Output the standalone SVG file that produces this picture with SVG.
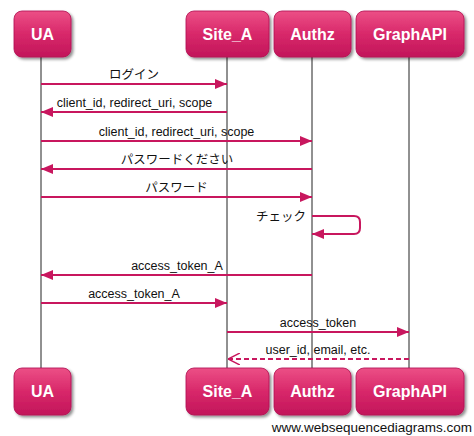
<svg xmlns="http://www.w3.org/2000/svg" width="474" height="436" viewBox="0 0 474 436">
<defs>
<linearGradient id="g" x1="0" y1="0" x2="0" y2="1">
<stop offset="0" stop-color="#ec4f86"/>
<stop offset="0.5" stop-color="#d8286a"/>
<stop offset="1" stop-color="#c2155a"/>
</linearGradient>
<filter id="sh" x="-20%" y="-20%" width="150%" height="150%">
<feGaussianBlur in="SourceAlpha" stdDeviation="1.5"/>
<feOffset dx="2" dy="2"/>
<feComponentTransfer><feFuncA type="linear" slope="0.45"/></feComponentTransfer>
<feMerge><feMergeNode/><feMergeNode in="SourceGraphic"/></feMerge>
</filter>
<marker id="a" markerWidth="12" markerHeight="10" refX="12" refY="5" orient="auto" markerUnits="userSpaceOnUse">
<path d="M0,0 L12,5 L0,10 Z" fill="#c8175e"/>
</marker>
<marker id="o" markerWidth="12" markerHeight="12" refX="12" refY="6" orient="auto" markerUnits="userSpaceOnUse">
<path d="M0,0 L12,6 L0,12" fill="none" stroke="#c8175e" stroke-width="1.5"/>
</marker>
</defs>
<style>
.box{fill:url(#g);stroke:#b01050;stroke-width:0.8;filter:url(#sh)}
.bt{font-family:"Liberation Sans",Arial,sans-serif;font-size:16px;font-weight:bold;fill:#fff;text-anchor:middle}
.life{stroke:#222;stroke-width:1}
.m{stroke:#c8175e;stroke-width:2;fill:none}
.d{stroke:#c8175e;stroke-width:2;fill:none;stroke-dasharray:5,3}
.t{font-family:"Liberation Sans","Noto Sans CJK JP",Arial,sans-serif;font-size:12.5px;fill:#111;text-anchor:middle}
.w{font-family:"Liberation Sans",Arial,sans-serif;font-size:13.5px;fill:#111;text-anchor:end}
</style>
<rect width="474" height="436" fill="#fff"/>
<g id="lifelines">
<line class="life" x1="41" y1="57" x2="41" y2="368"/>
<line class="life" x1="227" y1="57" x2="227" y2="368"/>
<line class="life" x1="312" y1="57" x2="312" y2="368"/>
<line class="life" x1="409" y1="57" x2="409" y2="368"/>
</g>
<g id="UA"><rect class="box" x="14" y="11" width="57" height="46" rx="8"/><text class="bt" x="42.5" y="40">UA</text>
<rect class="box" x="14" y="368" width="57" height="47" rx="8"/><text class="bt" x="42.5" y="397">UA</text></g>
<g id="Site_A"><rect class="box" x="186" y="11" width="83" height="46" rx="8"/><text class="bt" x="227.5" y="40">Site_A</text>
<rect class="box" x="186" y="368" width="83" height="47" rx="8"/><text class="bt" x="227.5" y="397">Site_A</text></g>
<g id="Authz"><rect class="box" x="274" y="11" width="77" height="46" rx="8"/><text class="bt" x="312.5" y="40">Authz</text>
<rect class="box" x="274" y="368" width="77" height="47" rx="8"/><text class="bt" x="312.5" y="397">Authz</text></g>
<g id="GraphAPI"><rect class="box" x="356" y="11" width="108" height="46" rx="8"/><text class="bt" x="410" y="40">GraphAPI</text>
<rect class="box" x="356" y="368" width="108" height="47" rx="8"/><text class="bt" x="410" y="397">GraphAPI</text></g>
<g id="connectors">
<line class="m" x1="41" y1="84" x2="227" y2="84" marker-end="url(#a)"/>
<text class="t" x="134" y="79">ログイン</text>
<line class="m" x1="227" y1="112" x2="41" y2="112" marker-end="url(#a)"/>
<text class="t" x="134.5" y="107">client_id, redirect_uri, scope</text>
<line class="m" x1="41" y1="141" x2="312" y2="141" marker-end="url(#a)"/>
<text class="t" x="176.5" y="136">client_id, redirect_uri, scope</text>
<line class="m" x1="312" y1="169" x2="41" y2="169" marker-end="url(#a)"/>
<text class="t" x="177" y="164">パスワードください</text>
<line class="m" x1="41" y1="197" x2="312" y2="197" marker-end="url(#a)"/>
<text class="t" x="176.5" y="192">パスワード</text>
<path class="m" d="M312,216 H354 Q360,216 360,222 V228 Q360,234 354,234 H312" marker-end="url(#a)"/>
<text class="t" x="281" y="221">チェック</text>
<line class="m" x1="312" y1="275" x2="41" y2="275" marker-end="url(#a)"/>
<text class="t" x="177" y="270">access_token_A</text>
<line class="m" x1="41" y1="303" x2="227" y2="303" marker-end="url(#a)"/>
<text class="t" x="134" y="298">access_token_A</text>
<line class="m" x1="227" y1="332" x2="409" y2="332" marker-end="url(#a)"/>
<text class="t" x="318" y="327">access_token</text>
<line class="d" x1="409" y1="359" x2="228" y2="359" marker-end="url(#o)"/>
<text class="t" x="318" y="354">user_id, email, etc.</text>
</g>
<text class="w" x="472" y="432">www.websequencediagrams.com</text>
</svg>
